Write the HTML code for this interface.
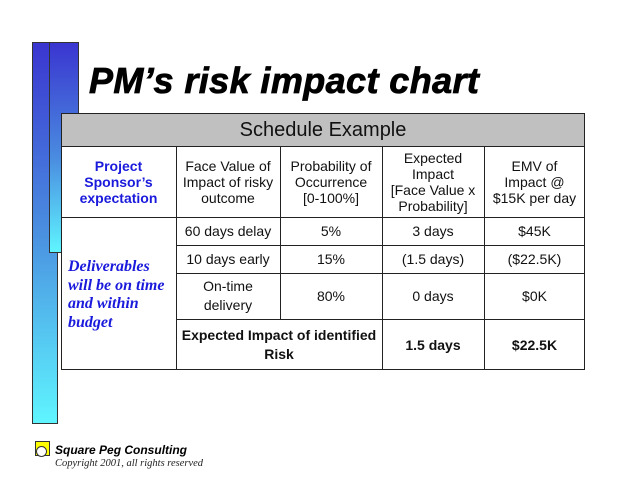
<!DOCTYPE html>
<html><head><meta charset="utf-8"><style>
body{margin:0;width:638px;height:478px;background:#fff;position:relative;overflow:hidden;font-family:"Liberation Sans",sans-serif}
.abs{position:absolute}
.c{position:absolute;display:flex;align-items:center;justify-content:center;text-align:center;font-size:14px;color:#111;line-height:16px;box-sizing:border-box}
.hl{position:absolute;background:#222;height:1px}
.vl{position:absolute;background:#222;width:1px}
</style></head><body>
<div class="abs" style="left:32px;top:42px;width:26px;height:382px;background:linear-gradient(#3a35d0,#4a90e0 50%,#5ff5ff);border:1px solid #333;box-sizing:border-box"></div>
<div class="abs" style="left:49px;top:42px;width:30px;height:211px;background:linear-gradient(#3a35d0,#4a8ce0 55%,#5ff5ff);border:1px solid #333;box-sizing:border-box"></div>
<div class="abs" style="left:89px;top:60px;font-size:36px;font-weight:bold;font-style:italic;color:#000;letter-spacing:0.4px;-webkit-text-stroke:0.8px #000">PM’s risk impact chart</div>
<div class="abs" style="left:61px;top:113px;width:524px;height:257px;background:#fff;border:1px solid #222;box-sizing:border-box"></div>
<div class="c" style="left:62px;top:114px;width:522px;height:32px;background:#c0c0c0;font-size:20px">Schedule Example</div>
<div class="hl" style="left:61px;top:146px;width:524px"></div>
<div class="hl" style="left:61px;top:217px;width:524px"></div>
<div class="hl" style="left:176px;top:245px;width:409px"></div>
<div class="hl" style="left:176px;top:273px;width:409px"></div>
<div class="hl" style="left:176px;top:319px;width:409px"></div>
<div class="vl" style="left:176px;top:146px;height:224px"></div>
<div class="vl" style="left:280px;top:146px;height:173px"></div>
<div class="vl" style="left:382px;top:146px;height:224px"></div>
<div class="vl" style="left:484px;top:146px;height:224px"></div>
<div class="c" style="left:61px;top:146px;width:115px;height:71px;color:#1a1adc;font-weight:bold">Project<br>Sponsor’s<br>expectation</div>
<div class="c" style="left:176px;top:146px;width:104px;height:71px">Face Value of<br>Impact of risky<br>outcome</div>
<div class="c" style="left:280px;top:146px;width:102px;height:71px">Probability of<br>Occurrence<br>[0-100%]</div>
<div class="c" style="left:382px;top:146px;width:102px;height:71px">Expected<br>Impact<br>[Face Value x<br>Probability]</div>
<div class="c" style="left:484px;top:146px;width:101px;height:71px">EMV of<br>Impact @<br>$15K per day</div>
<div class="abs" style="left:68px;top:258px;font-family:'Liberation Serif',serif;font-weight:bold;font-style:italic;font-size:16px;line-height:18.5px;color:#1a1adc">Deliverables<br>will be on time<br>and within<br>budget</div>
<div class="c" style="left:176px;top:217px;width:104px;height:28px">60 days delay</div>
<div class="c" style="left:280px;top:217px;width:102px;height:28px">5%</div>
<div class="c" style="left:382px;top:217px;width:102px;height:28px">3 days</div>
<div class="c" style="left:484px;top:217px;width:101px;height:28px">$45K</div>
<div class="c" style="left:176px;top:245px;width:104px;height:28px">10 days early</div>
<div class="c" style="left:280px;top:245px;width:102px;height:28px">15%</div>
<div class="c" style="left:382px;top:245px;width:102px;height:28px">(1.5 days)</div>
<div class="c" style="left:484px;top:245px;width:101px;height:28px">($22.5K)</div>
<div class="c" style="left:176px;top:273px;width:104px;height:46px;line-height:19px">On-time<br>delivery</div>
<div class="c" style="left:280px;top:273px;width:102px;height:46px">80%</div>
<div class="c" style="left:382px;top:273px;width:102px;height:46px">0 days</div>
<div class="c" style="left:484px;top:273px;width:101px;height:46px">$0K</div>
<div class="c" style="left:176px;top:319px;width:206px;height:51px;font-weight:bold;line-height:19px">Expected Impact of identified<br>Risk</div>
<div class="c" style="left:382px;top:319px;width:102px;height:51px;font-weight:bold">1.5 days</div>
<div class="c" style="left:484px;top:319px;width:101px;height:51px;font-weight:bold">$22.5K</div>
<div class="abs" style="left:35px;top:441px;width:15px;height:15px;background:#ffff00;border:1px solid #333;box-sizing:border-box"><div style="position:absolute;left:0;top:4px;width:9px;height:9px;border-radius:50%;background:#fff;border:1px solid #333"></div></div>
<div class="abs" style="left:55px;top:443px;font-size:12px;font-weight:bold;font-style:italic;color:#000">Square Peg Consulting</div>
<div class="abs" style="left:55px;top:458px;font-family:'Liberation Serif',serif;font-style:italic;font-size:10.5px;color:#222">Copyright 2001, all rights reserved</div>
</body></html>
